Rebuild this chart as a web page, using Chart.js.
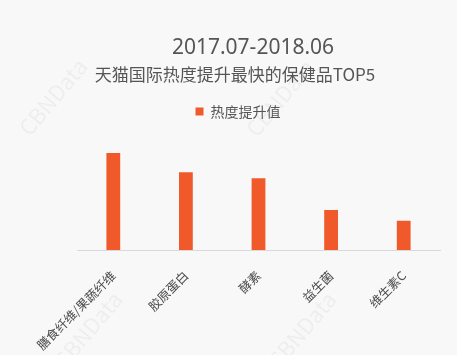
<!DOCTYPE html>
<html>
<head>
<meta charset="utf-8">
<script src="https://cdn.jsdelivr.net/npm/chart.js@4"></script>
<style>
  html, body { margin: 0; padding: 0; background: #f8f8f8; }
  #wrap { width: 457px; height: 355px; }
</style>
</head>
<body>
<div id="wrap"><canvas id="chart" width="457" height="355"></canvas></div>
<script>
const categories = ['膳食纤维/果蔬纤维', '胶原蛋白', '酵素', '益生菌', '维生素C'];
const heatValues = [80, 64, 59, 33, 24];
const titleLines = ['2017.07-2018.06', '天猫国际热度提升最快的保健品TOP5'];
const seriesName = '热度提升值';

const FONT = '"Noto Sans CJK SC", "Noto Sans", sans-serif';
const TEXT = '#555555';
const BAR = '#f05a2a';

// background + faint watermark, like the source image
const backdrop = {
  id: 'backdrop',
  beforeDraw(chart) {
    const ctx = chart.ctx;
    ctx.save();
    ctx.fillStyle = '#f8f8f8';
    ctx.fillRect(0, 0, chart.width, chart.height);
    ctx.fillStyle = 'rgba(0,0,0,0.045)';
    ctx.font = '22px ' + FONT;
    ctx.textAlign = 'center';
    ctx.textBaseline = 'middle';
    [[53, 97], [280, 98], [88, 330], [302, 330]].forEach(([x, y]) => {
      ctx.save();
      ctx.translate(x, y);
      ctx.rotate(-50 * Math.PI / 180);
      ctx.fillText('CBNData', 0, 0);
      ctx.restore();
    });
    ctx.restore();
  }
};

// the two title lines and the legend are not centred on the same x in the source
const nudge = {
  id: 'nudge',
  afterLayout(chart) {
    chart.boxes.forEach(b => {
      let dx = 0;
      if (b === chart.legend) dx = -6;
      else if (b.options && b.options.text === titleLines[0]) dx = 9;
      else if (b.options && b.options.text === titleLines[1]) dx = -9;
      b.left += dx;
      b.right += dx;
    });
  }
};

new Chart(document.getElementById('chart').getContext('2d'), {
  type: 'bar',
  data: {
    labels: categories,
    datasets: [{
      label: seriesName,
      data: heatValues,
      backgroundColor: BAR,
      borderWidth: 0,
      categoryPercentage: 1,
      barPercentage: 0.19
    }]
  },
  options: {
    responsive: false,
    animation: false,
    layout: { padding: { left: 48, right: 17, top: 0, bottom: 0 } },
    plugins: {
      title: {
        display: true,
        text: titleLines[0],
        color: TEXT,
        font: { family: '"Noto Sans", sans-serif', size: 21, weight: 'normal' },
        padding: { top: 35, bottom: 4 }
      },
      subtitle: {
        display: true,
        text: titleLines[1],
        color: TEXT,
        font: { family: FONT, size: 17, weight: 'normal' },
        padding: { top: 0, bottom: 10 }
      },
      legend: {
        display: true,
        labels: {
          boxWidth: 8,
          boxHeight: 8,
          color: TEXT,
          font: { family: FONT, size: 14 }
        }
      },
      tooltip: { enabled: false }
    },
    scales: {
      x: {
        grid: { display: false },
        border: { display: true, color: '#d9d9d9', width: 1 },
        ticks: {
          color: '#4a4a4a',
          font: { family: FONT, size: 12.5 },
          padding: 10,
          minRotation: 45,
          maxRotation: 45,
          autoSkip: false
        },
        afterFit(scale) { scale.height = 105; }
      },
      y: {
        display: true,
        min: 0,
        max: 100,
        grid: { display: false },
        border: { display: false },
        ticks: { display: false },
        afterFit(scale) { scale.width = 29; }
      }
    }
  },
  plugins: [backdrop, nudge]
});
</script>
</body>
</html>
